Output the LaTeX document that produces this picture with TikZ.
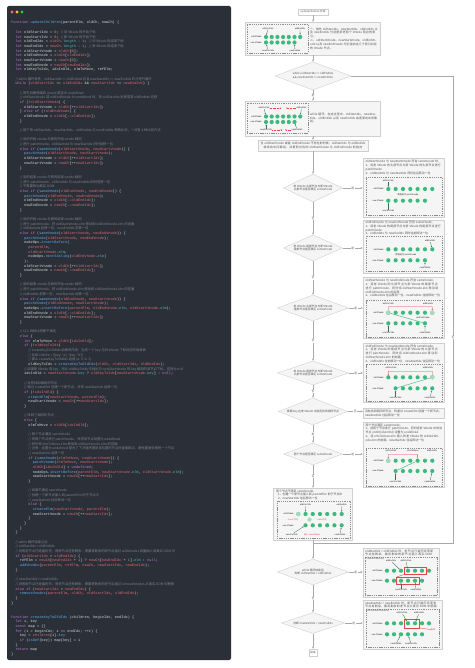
\documentclass[tikz,border=0pt]{standalone}
\usepackage{fontspec}
\setmonofont{Liberation Mono}
\newfontfamily\cjk{Noto Sans CJK SC}
\usetikzlibrary{shapes.geometric,arrows.meta}
\XeTeXlinebreaklocale "zh"
\XeTeXlinebreakskip=0pt plus 0.5pt
\definecolor{panel}{HTML}{2B2F37}
\definecolor{codefg}{HTML}{D7DAE0}
\definecolor{ckw}{HTML}{C678DD}
\definecolor{cvar}{HTML}{E06C75}
\definecolor{cfn}{HTML}{61AFEF}
\definecolor{cprop}{HTML}{56B6C2}
\definecolor{cnum}{HTML}{D19A66}
\definecolor{ccom}{HTML}{7F848E}
\definecolor{boxline}{HTML}{CFCFCF}
\definecolor{boxfill}{HTML}{F5F5F5}
\definecolor{dashc}{HTML}{8C8C8C}
\definecolor{connc}{HTML}{A9A9A9}
\definecolor{txtc}{HTML}{505050}
\definecolor{vgreen}{HTML}{3DB97E}
\definecolor{vfade}{HTML}{A3DCC0}
\definecolor{vdark}{HTML}{2F6F52}
\definecolor{rline}{HTML}{E0474C}
\newcommand\Kw[1]{\textcolor{ckw}{#1}}
\newcommand\Vr[1]{\textcolor{cvar}{#1}}
\newcommand\Fn[1]{\textcolor{cfn}{#1}}
\newcommand\Pp[1]{\textcolor{cprop}{#1}}
\newcommand\Nm[1]{\textcolor{cnum}{#1}}
\newcommand\Cm[1]{{\cjk\fontsize{3.3}{4}\selectfont\textcolor{ccom}{#1}}}
\newcommand\codeln[3]{\node[codeline] (cl#1) at ({11+#2*4.32},{24+#1*4.678}) {#3};}
\newcommand\dotrow[6]{\foreach \i in {1,...,#4}{\node[#6] (#1\i) at ({#2+(\i-1)*#5},#3) {};}}
\begin{document}
\begin{tikzpicture}[x=1pt,y=-1pt,
 codeline/.style={anchor=base west, inner sep=0pt, text=codefg, font=\ttfamily\fontsize{3.6}{4.6}\selectfont},
 fbox/.style={draw=boxline, fill=boxfill, line width=0.4pt, inner sep=0pt},
 dbox/.style={draw=dashc, line width=0.35pt, dash pattern=on 1.3pt off 0.9pt, inner sep=0pt},
 dia/.style={diamond, draw=boxline, fill=boxfill, line width=0.4pt, inner sep=0pt},
 ftxt/.style={font=\cjk\fontsize{2.9}{3.8}\selectfont, text=txtc, inner sep=0pt, align=left},
 dtxt/.style={font=\cjk\fontsize{2.8}{3.8}\selectfont, text=txtc, inner sep=0pt, align=center},
 flab/.style={font=\cjk\fontsize{2.1}{2.5}\selectfont, text=black!85, inner sep=0.2pt},
 rlab/.style={font=\cjk\fontsize{2.1}{2.5}\selectfont, text=rline, inner sep=0.2pt},
 vdot/.style={circle, fill=vgreen, minimum size=4.2pt, inner sep=0pt},
 fdot/.style={circle, fill=vfade, minimum size=4.2pt, inner sep=0pt},
 farr/.style={draw=vdark, line width=0.3pt, -{Stealth[length=1.3pt,width=1.2pt]}},
 rarr/.style={draw=rline, line width=0.3pt, dash pattern=on 0.8pt off 0.6pt, -{Stealth[length=1.3pt,width=1.2pt]}},
 rseg/.style={draw=rline, line width=0.35pt},
 rbox/.style={draw=rline, line width=0.4pt, inner sep=0pt},
 gdiag/.style={draw=vgreen, line width=0.45pt},
 conn/.style={draw=connc, line width=0.35pt, -{Stealth[length=2.2pt,width=1.9pt]}},
 cline/.style={draw=connc, line width=0.35pt},
 yn/.style={font=\cjk\fontsize{2.8}{3}\selectfont, text=black!60, fill=white, inner sep=0.5pt}
]
\useasboundingbox (0,0) rectangle (474,668);
\fill[white] (0,0) rectangle (474,668);
% ---------------- code panel ----------------
\node[fill=panel, rounded corners=2pt, minimum width=224pt, minimum height=654pt, inner sep=0pt] (panel) at (119,333) {};
\node[circle, fill={rgb,255:red,255;green,95;blue,86}, minimum size=3.2pt, inner sep=0pt] (wr) at (12,12) {};
\node[circle, fill={rgb,255:red,255;green,189;blue,46}, minimum size=3.2pt, inner sep=0pt] (wy) at (17,12) {};
\node[circle, fill={rgb,255:red,39;green,201;blue,63}, minimum size=3.2pt, inner sep=0pt] (wg) at (22,12) {};
\codeln{0}{0}{\Kw{function} \Fn{updateChildren}(parentElm, oldCh, newCh) \{}
\codeln{2}{1}{\Kw{let} oldStartIdx = \Nm{0}; \Cm{// 旧 VNode 的开始下标}}
\codeln{3}{1}{\Kw{let} newStartIdx = \Nm{0}; \Cm{// 新 VNode 的开始下标}}
\codeln{4}{1}{\Kw{let} oldEndIdx = \Vr{oldCh}.\Pp{length} - \Nm{1}; \Cm{// 旧 VNode 的结束下标}}
\codeln{5}{1}{\Kw{let} newEndIdx = \Vr{newCh}.\Pp{length} - \Nm{1}; \Cm{// 新 VNode 的结束下标}}
\codeln{6}{1}{\Kw{let} oldStartVnode = \Vr{oldCh}[\Nm{0}];}
\codeln{7}{1}{\Kw{let} oldEndVnode = \Vr{oldCh}[\Vr{oldEndIdx}];}
\codeln{8}{1}{\Kw{let} newStartVnode = \Vr{newCh}[\Nm{0}];}
\codeln{9}{1}{\Kw{let} newEndVnode = \Vr{newCh}[\Vr{newEndIdx}];}
\codeln{10}{1}{\Kw{let} oldKeyToIdx, idxInOld, elmToMove, refElm;}
\codeln{12}{1}{\Cm{// while 循环条件：oldStartIdx <= oldEndIdx 并且 newStartIdx <= newEndIdx 时才进行循环}}
\codeln{13}{1}{\Kw{while} (\Vr{oldStartIdx} <= \Vr{oldEndIdx} \&\& \Vr{newStartIdx} <= \Vr{newEndIdx}) \{}
\codeln{15}{2}{\Cm{// 首先判断两端的 vnode 是否为 undefined}}
\codeln{16}{2}{\Cm{// oldStartVnode 或 oldEndVnode 为 undefined 时，将 oldStartIdx 右移或将 oldEndIdx 左移}}
\codeln{17}{2}{\Kw{if} (!\Vr{oldStartVnode}) \{}
\codeln{18}{3}{oldStartVnode = \Vr{oldCh}[++\Vr{oldStartIdx}];}
\codeln{19}{2}{\} \Kw{else if} (!\Vr{oldEndVnode}) \{}
\codeln{20}{3}{oldEndVnode = \Vr{oldCh}[--\Vr{oldEndIdx}];}
\codeln{21}{2}{\}}
\codeln{23}{2}{\Cm{// 接下来 oldStartIdx、newStartIdx、oldEndIdx 与 newEndIdx 两两比较，一共有 4 种比较方式}}
\codeln{25}{2}{\Cm{// 旧的开始 vnode 与新的开始 vnode 相同}}
\codeln{26}{2}{\Cm{// 进行 patchVnode，oldStartIdx 与 newStartIdx 同时后移一位}}
\codeln{27}{2}{\Kw{else if} (\Fn{sameVnode}(\Vr{oldStartVnode}, \Vr{newStartVnode})) \{}
\codeln{28}{3}{\Fn{patchVnode}(\Vr{oldStartVnode}, \Vr{newStartVnode});}
\codeln{29}{3}{oldStartVnode = \Vr{oldCh}[++\Vr{oldStartIdx}];}
\codeln{30}{3}{newStartVnode = \Vr{newCh}[++\Vr{newStartIdx}];}
\codeln{31}{2}{\}}
\codeln{33}{2}{\Cm{// 旧的结束 vnode 与新的结束 vnode 相同}}
\codeln{34}{2}{\Cm{// 进行 patchVnode，oldEndIdx 与 newEndIdx 同时前移一位}}
\codeln{35}{2}{\Cm{// 不需要移动真实 DOM}}
\codeln{36}{2}{\Kw{else if} (\Fn{sameVnode}(\Vr{oldEndVnode}, \Vr{newEndVnode})) \{}
\codeln{37}{3}{\Fn{patchVnode}(\Vr{oldEndVnode}, \Vr{newEndVnode});}
\codeln{38}{3}{oldEndVnode = \Vr{oldCh}[--\Vr{oldEndIdx}];}
\codeln{39}{3}{newEndVnode = \Vr{newCh}[--\Vr{newEndIdx}];}
\codeln{40}{2}{\}}
\codeln{42}{2}{\Cm{// 旧的开始 vnode 与新的结束 vnode 相同}}
\codeln{43}{2}{\Cm{// 进行 patchVnode，将 oldStartVnode.elm 移动到 oldEndVnode.elm 的后面}}
\codeln{44}{2}{\Cm{// oldStartIdx 后移一位，newEndIdx 前移一位}}
\codeln{45}{2}{\Kw{else if} (\Fn{sameVnode}(\Vr{oldStartVnode}, \Vr{newEndVnode})) \{}
\codeln{46}{3}{\Fn{patchVnode}(\Vr{oldStartVnode}, \Vr{newEndVnode});}
\codeln{47}{3}{nodeOps.\Fn{insertBefore}(}
\codeln{48}{4}{\Vr{parentElm},}
\codeln{49}{4}{\Vr{oldStartVnode}.\Pp{elm},}
\codeln{50}{4}{nodeOps.\Fn{nextSibling}(\Vr{oldEndVnode}.\Pp{elm})}
\codeln{51}{3}{);}
\codeln{52}{3}{oldStartVnode = \Vr{oldCh}[++\Vr{oldStartIdx}];}
\codeln{53}{3}{newEndVnode = \Vr{newCh}[--\Vr{newEndIdx}];}
\codeln{54}{2}{\}}
\codeln{56}{2}{\Cm{// 旧的结束 vnode 与新的开始 vnode 相同}}
\codeln{57}{2}{\Cm{// 进行 patchVnode，将 oldEndVnode.elm 移动到 oldStartVnode.elm 的前面}}
\codeln{58}{2}{\Cm{// oldEndIdx 前移一位，newStartIdx 后移一位}}
\codeln{59}{2}{\Kw{else if} (\Fn{sameVnode}(\Vr{oldEndVnode}, \Vr{newStartVnode})) \{}
\codeln{60}{3}{\Fn{patchVnode}(\Vr{oldEndVnode}, \Vr{newStartVnode});}
\codeln{61}{3}{nodeOps.\Fn{insertBefore}(\Vr{parentElm}, \Vr{oldEndVnode}.\Pp{elm}, \Vr{oldStartVnode}.\Pp{elm});}
\codeln{62}{3}{oldEndVnode = \Vr{oldCh}[--\Vr{oldEndIdx}];}
\codeln{63}{3}{newStartVnode = \Vr{newCh}[++\Vr{newStartIdx}];}
\codeln{64}{2}{\}}
\codeln{66}{2}{\Cm{// 以上四种比较都不满足}}
\codeln{67}{2}{\Kw{else} \{}
\codeln{68}{3}{\Kw{let} elmToMove = \Vr{oldCh}[\Vr{idxInOld}];}
\codeln{69}{3}{\Kw{if} (!\Vr{oldKeyToIdx})}
\codeln{70}{4}{\Cm{// createKeyToOldIdx 函数的作用：生成一个 key 与旧 VNode 下标对应的哈希表}}
\codeln{71}{4}{\Cm{// 比如 childre = [\{key: 'a'\}, \{key: 'b'\}]}}
\codeln{72}{4}{\Cm{// 那么 createKeyToOldIdx 返回 \{a: 0, b: 1\}}}
\codeln{73}{4}{oldKeyToIdx = \Fn{createKeyToOldIdx}(\Vr{oldCh}, \Vr{oldStartIdx}, \Vr{oldEndIdx});}
\codeln{74}{3}{\Cm{// 如果新 VNode 有 key，则从 oldKeyToIdx 中找出与 newStartVnode 的 key 相同的旧节点下标，否则为 null}}
\codeln{75}{3}{idxInOld = \Vr{newStartVnode}.\Pp{key} ? \Vr{oldKeyToIdx}[\Vr{newStartVnode}.\Pp{key}] : \Kw{null};}
\codeln{77}{3}{\Cm{// 没有找到相同的节点}}
\codeln{78}{3}{\Cm{// 通过 createElm 创建一个新节点，并将 newStartIdx 后移一位}}
\codeln{79}{3}{\Kw{if} (!\Vr{idxInOld}) \{}
\codeln{80}{4}{\Fn{createElm}(\Vr{newStartVnode}, \Vr{parentElm});}
\codeln{81}{4}{newStartVnode = \Vr{newCh}[++\Vr{newStartIdx}];}
\codeln{82}{3}{\}}
\codeln{84}{3}{\Cm{// 找到了相同的节点}}
\codeln{85}{3}{\Kw{else} \{}
\codeln{86}{4}{elmToMove = \Vr{oldCh}[\Vr{idxInOld}];}
\codeln{88}{4}{\Cm{// 两个节点满足 sameVnode}}
\codeln{89}{4}{\Cm{// 将两个节点进行 patchVnode，并将旧节点设置为 undefined}}
\codeln{90}{4}{\Cm{// 同时将 elmToMove.elm 移动到 oldStartVnode.elm 的前面}}
\codeln{91}{4}{\Cm{// 注意：设置为 undefined 是为了下次循环遇到该位置的节点时直接跳过，避免重复处理同一个节点}}
\codeln{92}{4}{\Cm{// newStartIdx 后移一位}}
\codeln{93}{4}{\Kw{if} (\Fn{sameVnode}(\Vr{elmToMove}, \Vr{newStartVnode})) \{}
\codeln{94}{5}{\Fn{patchVnode}(\Vr{elmToMove}, \Vr{newStartVnode});}
\codeln{95}{5}{\Vr{oldCh}[\Vr{idxInOld}] = \Kw{undefined};}
\codeln{96}{5}{nodeOps.\Fn{insertBefore}(\Vr{parentElm}, \Vr{newStartVnode}.\Pp{elm}, \Vr{oldStartVnode}.\Pp{elm});}
\codeln{97}{5}{newStartVnode = \Vr{newCh}[++\Vr{newStartIdx}];}
\codeln{98}{4}{\}}
\codeln{100}{4}{\Cm{// 如果不满足 sameVnode}}
\codeln{101}{4}{\Cm{// 创建一个新节点插入到 parentElm 的子节点中}}
\codeln{102}{4}{\Cm{// newStartIdx 往后移动一位}}
\codeln{103}{4}{\Kw{else} \{}
\codeln{104}{5}{\Fn{createElm}(\Vr{newStartVnode}, \Vr{parentElm});}
\codeln{105}{5}{newStartVnode = \Vr{newCh}[++\Vr{newStartIdx}];}
\codeln{106}{4}{\}}
\codeln{107}{3}{\}}
\codeln{108}{2}{\}}
\codeln{109}{1}{\}}
\codeln{111}{1}{\Cm{// while 循环结束之后}}
\codeln{112}{1}{\Cm{// oldStartIdx > oldEndIdx}}
\codeln{113}{1}{\Cm{// 说明老节点已经遍历完，而新节点还有剩余，需要将剩余的新节点通过 addVnodes 批量插入到真实 DOM 中}}
\codeln{114}{1}{\Kw{if} (\Vr{oldStartIdx} > \Vr{oldEndIdx}) \{}
\codeln{115}{2}{refElm = \Vr{newCh}[\Vr{newEndIdx} + \Nm{1}] ? \Vr{newCh}[\Vr{newEndIdx} + \Nm{1}].\Pp{elm} : \Kw{null};}
\codeln{116}{2}{\Fn{addVnodes}(\Vr{parentElm}, \Vr{refElm}, \Vr{newCh}, \Vr{newStartIdx}, \Vr{newEndIdx});}
\codeln{117}{1}{\}}
\codeln{119}{1}{\Cm{// newStartIdx > newEndIdx}}
\codeln{120}{1}{\Cm{// 说明新节点已经遍历完，而老节点还有剩余，需要将剩余的老节点通过 removeVnodes 从真实 DOM 中删除}}
\codeln{121}{1}{\Kw{else if} (\Vr{newStartIdx} > \Vr{newEndIdx}) \{}
\codeln{122}{2}{\Fn{removeVnodes}(\Vr{parentElm}, \Vr{oldCh}, \Vr{oldStartIdx}, \Vr{oldEndIdx});}
\codeln{123}{1}{\}}
\codeln{124}{0}{\}}
\codeln{127}{0}{\Kw{function} \Fn{createKeyToOldIdx} (children, beginIdx, endIdx) \{}
\codeln{128}{1}{\Kw{let} i, key}
\codeln{129}{1}{\Kw{const} map = \{\}}
\codeln{130}{1}{\Kw{for} (i = beginIdx; i <= endIdx; ++i) \{}
\codeln{131}{2}{key = \Vr{children}[i].\Pp{key}}
\codeln{132}{2}{\Kw{if} (\Fn{isDef}(key)) map[key] = i}
\codeln{133}{1}{\}}
\codeln{134}{1}{\Kw{return} map}
\codeln{135}{0}{\}}
% ---------------- flowchart: main column ----------------
\node[fbox, fill=white, minimum width=30pt, minimum height=6pt, font=\cjk\fontsize{2.6}{3}\selectfont, text=txtc] (st) at (313,12) {updateChildren 开始};
\node[fbox, minimum width=135pt, minimum height=33pt] (b1) at (313,38.5) {};
\node[ftxt, anchor=north west, text width=68pt] (b1t) at (310,27.5) {一、首先 oldStartIdx、newStartIdx、oldEndIdx 以及 newEndIdx 分别是新老两个 VNode 两边的索引。\\ 二、oldStartVnode、newStartVnode、oldEndVnode 以及 newEndVnode 分别指向这几个索引对应的 VNode 节点。};
\node[dia, minimum width=76pt, minimum height=28pt] (d1) at (313,76) {};
\node[dtxt] (d1t) at (d1) {while (oldStartIdx <= oldEndIdx\\ \&\& newStartIdx <= newEndIdx)};
\node[fbox, minimum width=135pt, minimum height=35pt] (b2) at (313,118.5) {};
\node[ftxt, anchor=west, text width=68pt] (b2t) at (310,118) {while 循环，在这过程中，oldStartIdx、newStartIdx、oldEndIdx 以及 newEndIdx 会逐渐向中间靠拢。};
\node[fbox, minimum width=110pt, minimum height=11pt, text width=107pt, align=center, font=\cjk\fontsize{2.9}{3.8}\selectfont, text=txtc] (b3) at (313,145.5) {当 oldStartVnode 或者 oldEndVnode 不存在的时候，oldStartIdx 与 oldEndIdx 继续向中间靠拢，并更新对应的 oldStartVnode 与 oldEndVnode 的指向};
\node[dia, minimum width=59pt, minimum height=28pt] (d2) at (313,188) {};
\node[dtxt] (d2t) at (d2) {老 VNode 头部节点与新 VNode\\ 头部节点是否满足 sameVnode};
\node[dia, minimum width=59pt, minimum height=26pt] (d3) at (313,248) {};
\node[dtxt] (d3t) at (d3) {老 VNode 尾部节点与新 VNode\\ 尾部节点是否满足 sameVnode};
\node[dia, minimum width=71pt, minimum height=26pt] (d4) at (313,308) {};
\node[dtxt] (d4t) at (d4) {老 VNode 头部节点与新 VNode\\ 尾部节点是否满足 sameVnode};
\node[dia, minimum width=71pt, minimum height=24pt] (d5) at (313,373) {};
\node[dtxt] (d5t) at (d5) {老 VNode 尾部节点与新 VNode\\ 头部节点是否满足 sameVnode};
\node[dia, minimum width=69pt, minimum height=27pt] (d6) at (313,411.5) {};
\node[dtxt] (d6t) at (d6) {根据 key 在老 VNode 中能否找到相同节点};
\node[dia, minimum width=59pt, minimum height=22pt] (d7) at (313,454) {};
\node[dtxt] (d7t) at (d7) {两个节点是否满足 sameVnode};
\node[fbox, minimum width=79pt, minimum height=52pt] (b10) at (313,514) {};
\node[ftxt, anchor=north west, text width=75pt] (b10t) at (276,489.5) {两个节点不满足 sameVnode，\\ \hspace*{2pt}1、创建一个新节点插入到 parentElm 的子节点中\\ \hspace*{2pt}2、newStartIdx 往后移动一位};
\node[dia, minimum width=71pt, minimum height=26pt] (d8) at (313,572) {};
\node[dtxt] (d8t) at (d8) {while 循环结束后\\ 判断 oldStartIdx > oldEndIdx};
\node[dia, minimum width=63pt, minimum height=21pt] (d9) at (313,623) {};
\node[dtxt] (d9t) at (d9) {判断 newStartIdx > newEndIdx};
\node[fbox, fill=white, minimum width=8pt, minimum height=7pt, font=\cjk\fontsize{2.6}{3}\selectfont, text=txtc] (en) at (313,652.5) {结束};
% ---------------- flowchart: right boxes ----------------
\node[fbox, minimum width=81pt, minimum height=59pt] (b4) at (403.5,187.5) {};
\node[ftxt, anchor=north west, text width=77pt] (b4t) at (365.5,160) {oldStartVnode 与 newStartVnode 符合 sameVnode 时，\\ 1、将老 VNode 的头部节点与新 VNode 的头部节点进行 patchVnode\\ 2、oldStartIdx 与 newStartIdx 同时往后移动一位};
\node[fbox, minimum width=81pt, minimum height=53pt] (b5) at (403.5,246.5) {};
\node[ftxt, anchor=north west, text width=77pt] (b5t) at (365.5,220.8) {oldEndVnode 与 newEndVnode 符合 sameVnode，\\ 1、将老 VNode 的尾部节点与新 VNode 的尾部节点进行 patchVnode\\ 2、oldEndIdx 与 newEndIdx 同时往前移动一位};
\node[fbox, minimum width=81pt, minimum height=61pt] (b6) at (403.5,307.5) {};
\node[ftxt, anchor=north west, text width=77pt] (b6t) at (365.5,279) {oldStartVnode 与 newEndVnode 符合 sameVnode，\\ 1、将老 VNode 的头部节点与新 VNode 的尾部节点进行 patchVnode，同时将 oldStartVnode.elm 移动到 oldEndVnode.elm 的后面\\ 2、oldStartIdx 往后移动一位，newEndIdx 往前移动一位};
\node[fbox, minimum width=81pt, minimum height=59pt] (b7) at (403.5,372.5) {};
\node[ftxt, anchor=north west, text width=77pt] (b7t) at (365.5,344.5) {oldEndVnode 与 newStartVnode 符合 sameVnode，\\ 1、将老 VNode 的尾部节点与新 VNode 的头部节点进行 patchVnode，同时将 oldEndVnode.elm 移动到 oldStartVnode.elm 的前面\\ 2、oldEndIdx 往前移动一位，newStartIdx 往后移动一位};
\node[fbox, minimum width=81pt, minimum height=10pt, text width=77pt, align=left, font=\cjk\fontsize{2.9}{3.8}\selectfont, text=txtc] (b8) at (403.5,413) {没有找到相同的节点，则通过 createElm 创建一个新节点，newStartIdx 往后移动一位};
\node[fbox, minimum width=81pt, minimum height=65pt] (b9) at (403.5,454.5) {};
\node[ftxt, anchor=north west, text width=77pt] (b9t) at (365.5,423.5) {两个节点满足 sameVnode，\\ 1、将两个节点进行 patchVnode，同时将老 VNode 中的该节点 oldCh[idxInOld] 设置为 undefined\\ 2、将 elmToMove.elm 插入到老 VNode 的 oldStartVnode.elm 的前面，newStartIdx 往后移动一位};
\node[fbox, minimum width=76pt, minimum height=49pt] (b11) at (401,572.5) {};
\node[ftxt, anchor=north west, text width=72pt] (b11t) at (365,549.5) {oldStartIdx > oldEndIdx 时，老节点已遍历完而新节点有剩余，需将剩余的新节点插入真实 DOM（addVnodes）};
\node[fbox, minimum width=79pt, minimum height=49pt] (b12) at (402.5,624.5) {};
\node[ftxt, anchor=north west, text width=75pt] (b12t) at (365,601.5) {newStartIdx > newEndIdx 时，新节点已遍历完而老节点有剩余，需将剩余的老节点从真实 DOM 中删除（removeVnodes）};
% ---------------- connectors ----------------
\coordinate (c1) at (453,76);
\coordinate (c2) at (453,543);
\coordinate (c3) at (313,543);
\draw[conn] (st) -- (b1);
\draw[conn] (b1) -- (d1);
\draw[conn] (d1) -- node[yn]{是} (b2);
\draw[conn] (b2) -- (b3);
\draw[conn] (b3) -- (d2);
\draw[conn] (d2.east) -- node[yn]{是} (d2.east -| b4.west);
\draw[conn] (d2) -- node[yn]{否} (d3);
\draw[conn] (d3.east) -- node[yn]{是} (d3.east -| b5.west);
\draw[conn] (d3) -- node[yn]{否} (d4);
\draw[conn] (d4.east) -- node[yn]{是} (d4.east -| b6.west);
\draw[conn] (d4) -- node[yn]{否} (d5);
\draw[conn] (d5.east) -- node[yn]{是} (d5.east -| b7.west);
\draw[conn] (d5) -- node[yn]{否} (d6);
\draw[conn] (d6.east) -- node[yn]{否} (d6.east -| b8.west);
\draw[conn] (d6) -- node[yn]{是} (d7);
\draw[conn] (d7.east) -- node[yn]{是} (d7.east -| b9.west);
\draw[conn] (d7) -- node[yn]{否} (b10);
\draw[cline] (d1.east) -- (c1) -- node[yn, pos=0.56]{否} (c2) -- (c3);
\draw[conn] (b10) -- (d8);
\draw[conn] (d8.east) -- node[yn]{是} (d8.east -| b11.west);
\draw[conn] (d8) -- node[yn]{否} (d9);
\draw[conn] (d9.east) -- node[yn]{是} (d9.east -| b12.west);
\draw[conn] (d9) -- (en);
% ---------------- fig 1 ----------------
\node[dbox, minimum width=61pt, minimum height=29pt] (f1) at (277.5,38.5) {};
\dotrow{f1o}{266}{37}{7}{5.7}{vdot}
\dotrow{f1n}{266}{42.5}{6}{5.7}{vdot}
\node[flab, anchor=east] (f1ol) at (262,37) {old VNode};
\node[flab, anchor=east] (f1nl) at (262,42.5) {new VNode};
\node[flab] (f1os) at (268,28.5) {oldStartIdx};
\node[flab] (f1oe) at (300,28.5) {oldEndIdx};
\node[flab] (f1ns) at (268,50.5) {newStartIdx};
\node[flab] (f1ne) at (295,50.5) {newEndIdx};
\draw[farr] (f1os) -- (f1o1);
\draw[farr] (f1oe) -- (f1o7);
\draw[farr] (f1ns) -- (f1n1);
\draw[farr] (f1ne) -- (f1n6);
% ---------------- fig 2 ----------------
\node[dbox, minimum width=61pt, minimum height=30pt] (f2) at (277.5,118) {};
\dotrow{f2o}{266}{116.5}{7}{5.7}{vdot}
\dotrow{f2n}{266}{122}{6}{5.7}{vdot}
\node[flab, anchor=east] (f2ol) at (262,116.5) {old VNode};
\node[flab, anchor=east] (f2nl) at (262,122) {new VNode};
\node[flab] (f2os) at (264,108) {oldStartIdx};
\node[flab] (f2oe) at (301.5,108) {oldEndIdx};
\node[flab] (f2ns) at (266,129.8) {newStartIdx};
\node[flab] (f2ne) at (297,129.8) {newEndIdx};
\coordinate (f2osr) at (281,108);
\coordinate (f2oel) at (286,108);
\coordinate (f2nsr) at (282,129.8);
\coordinate (f2nel) at (285,129.8);
\draw[rarr] (f2os.east) -- (f2osr);
\draw[rarr] (f2oe.west) -- (f2oel);
\draw[rarr] (f2ns.east) -- (f2nsr);
\draw[rarr] (f2ne.west) -- (f2nel);
\draw[farr] (f2os) -- (f2o1);
\draw[farr] (f2oe) -- (f2o7);
\draw[farr] (f2ns) -- (f2n1);
\draw[farr] (f2ne) -- (f2n6);
% ---------------- fig 4 ----------------
\node[dbox, minimum width=76pt, minimum height=38pt] (f4) at (404,196) {};
\dotrow{f4o}{388.3}{189}{7}{7.33}{vdot}
\dotrow{f4n}{388.3}{200.7}{6}{7.33}{vdot}
\node[flab, anchor=east] (f4ol) at (384,189) {old VNode};
\node[flab, anchor=east] (f4nl) at (384,200.7) {new VNode};
\node[flab] (f4os) at (388.3,181) {oldStartIdx};
\node[flab] (f4ns) at (388.3,211) {newStartIdx};
\node[flab] (f4p) at (408,194.8) {两者进行 patchVnode};
\draw[farr] (f4os) -- (f4o1);
\draw[farr] (f4ns) -- (f4n1);
% ---------------- fig 5 ----------------
\node[dbox, minimum width=76pt, minimum height=35pt] (f5) at (404,253.5) {};
\dotrow{f5o}{388.3}{249.3}{7}{7.33}{vdot}
\dotrow{f5n}{388.3}{260.3}{6}{7.33}{vdot}
\node[flab, anchor=east] (f5ol) at (384,249.3) {old VNode};
\node[flab, anchor=east] (f5nl) at (384,260.3) {new VNode};
\node[flab] (f5oe) at (430,240.8) {oldEndIdx};
\node[flab] (f5ne) at (425,268) {newEndIdx};
\node[flab] (f5p) at (406,254.8) {两者进行 patchVnode};
\draw[farr] (f5oe) -- (f5o7);
\draw[farr] (f5ne) -- (f5n6);
% ---------------- fig 6 ----------------
\node[dbox, minimum width=76pt, minimum height=37pt] (f6) at (404,318.5) {};
\dotrow{f6o}{388.3}{312.7}{7}{7.33}{vdot}
\dotrow{f6n}{388.3}{323.3}{6}{7.33}{vdot}
\node[fdot] (f6o1f) at (f6o1) {};
\node[fdot] (f6o7f) at (f6o7) {};
\node[flab, anchor=east] (f6ol) at (384,312.7) {old VNode};
\node[flab, anchor=east] (f6nl) at (384,323.3) {new VNode};
\node[flab] (f6os) at (388.3,303.3) {oldStartIdx};
\node[flab] (f6oe) at (428,303.3) {oldEndIdx};
\coordinate (f6ra) at (388.3,306.8);
\coordinate (f6rb) at (432.3,306.8);
\draw[rseg, -{Stealth[length=1.3pt,width=1.2pt]}] (f6o1.north) -- (f6ra) -- (f6rb) -- (f6o7.north);
\node[flab] (f6ev) at (423,318.1) {oldEndVnode};
\draw[gdiag] (f6o1) -- (f6n6);
\node[flab] (f6ns) at (388.3,332.8) {newStartIdx};
\node[flab] (f6ne) at (425,332.8) {newEndIdx};
\draw[farr] (f6ns) -- (f6n1);
\draw[farr] (f6ne) -- (f6n6);
% ---------------- fig 7 ----------------
\node[dbox, minimum width=76pt, minimum height=37pt] (f7) at (404,382.5) {};
\dotrow{f7o}{388.3}{377.3}{7}{7.33}{vdot}
\dotrow{f7n}{395.6}{388.3}{6}{7.33}{vdot}
\node[fdot] (f7o7f) at (f7o7) {};
\node[flab, anchor=east] (f7ol) at (384,377.3) {old VNode};
\node[flab, anchor=east] (f7nl) at (384,388.3) {new VNode};
\node[flab] (f7os) at (391,367.8) {oldStartIdx};
\node[flab] (f7oe) at (428,367.8) {oldEndIdx};
\coordinate (f7ra) at (388.3,371.3);
\coordinate (f7rb) at (432.3,371.3);
\draw[rseg, -{Stealth[length=1.3pt,width=1.2pt]}] (f7o7.north) -- (f7rb) -- (f7ra) -- (f7o1.north);
\draw[gdiag] (f7o7) -- (f7n1);
\node[flab] (f7ns) at (395.6,397.8) {newStartIdx};
\node[flab] (f7ne) at (430,397.8) {newEndIdx};
\draw[farr] (f7ns) -- (f7n1);
\draw[farr] (f7ne) -- (f7n6);
% ---------------- fig 9 ----------------
\node[dbox, minimum width=76pt, minimum height=38pt] (f9) at (404,467) {};
\dotrow{f9o}{388.3}{460.7}{7}{7.33}{vdot}
\dotrow{f9n}{395.6}{471}{6}{7.33}{vdot}
\node[fdot] (f9o1f) at (f9o1) {};
\node[flab, anchor=east] (f9ol) at (384,460.7) {old VNode};
\node[flab, anchor=east] (f9nl) at (384,471) {new VNode};
\node[flab] (f9os) at (391,450.5) {oldStartIdx};
\node[flab] (f9em) at (413,450.5) {elmToMove};
\node[flab] (f9oe) at (432,450.5) {oldEndIdx};
\coordinate (f9ra) at (388.3,454.5);
\coordinate (f9rb) at (417.6,454.5);
\draw[rseg, -{Stealth[length=1.3pt,width=1.2pt]}] (f9o5.north) -- (f9rb) -- (f9ra) -- (f9o1.north);
\draw[gdiag] (f9o5) -- (f9n1);
\node[flab] (f9ns) at (395.6,481.3) {newStartIdx};
\node[flab] (f9ne) at (430,481.3) {newEndIdx};
\draw[farr] (f9ns) -- (f9n1);
\draw[farr] (f9ne) -- (f9n6);
% ---------------- fig 10 ----------------
\node[dbox, minimum width=73pt, minimum height=37pt] (f10) at (313.5,519.5) {};
\dotrow{f10o}{298.3}{514}{7}{7.23}{vdot}
\dotrow{f10n}{305.5}{525.3}{6}{7.23}{vdot}
\node[fdot] (f10o1f) at (f10o1) {};
\node[fdot] (f10x) at (309.5,519.6) {};
\node[flab, anchor=east] (f10ol) at (294,514) {old VNode};
\node[flab, anchor=east] (f10nl) at (294,525.3) {new VNode};
\node[rlab] (f10xl) at (293,519.6) {insert 节点};
\node[rlab] (f10xr) at (322,519.6) {new 节点};
\node[flab] (f10os) at (305.5,505) {oldStartIdx};
\node[flab] (f10oe) at (341.7,505) {oldEndIdx};
\node[flab] (f10ns) at (291.7,534.5) {newStartIdx};
\node[rlab] (f10nr) at (312,534.5) {插入 new VNode};
\node[flab] (f10ne) at (340,534.5) {newEndIdx};
\draw[farr] (f10os) -- (f10o2);
\draw[farr] (f10oe) -- (f10o7);
\draw[farr] (f10ns) -- (f10n1);
\draw[farr] (f10ne) -- (f10n6);
% ---------------- fig 11 ----------------
\node[dbox, minimum width=72pt, minimum height=38pt] (f11) at (401,576.5) {};
\dotrow{f11o}{387}{570.7}{7}{7}{vdot}
\dotrow{f11n}{387}{580.7}{6}{7}{vdot}
\node[flab, anchor=east] (f11ol) at (383,570.7) {old VNode};
\node[flab, anchor=east] (f11nl) at (383,580.7) {new VNode};
\node[rbox, minimum width=21.6pt, minimum height=7.3pt] (f11r1) at (415,570.7) {};
\node[rbox, minimum width=23pt, minimum height=6.7pt] (f11r2) at (408,580.7) {};
\draw[rseg] (f11r1.south west) -- (f11r2.north west);
\node[flab] (f11oe) at (391,561) {oldEndIdx};
\node[flab] (f11os) at (406,561) {oldStartIdx};
\node[flab] (f11ns) at (401,589.8) {newStartIdx};
\node[flab] (f11ne) at (416,589.8) {newEndIdx};
\draw[farr] (f11oe) -- (f11o3);
\draw[farr] (f11os) -- (f11o4);
\draw[farr] (f11ns) -- (f11n3);
\draw[farr] (f11ne) -- (f11n5);
% ---------------- fig 12 ----------------
\node[dbox, minimum width=73pt, minimum height=38pt] (f12) at (402.5,628.5) {};
\dotrow{f12o}{387}{623.3}{7}{7}{vdot}
\dotrow{f12n}{387}{634.3}{6}{7}{vdot}
\node[flab, anchor=east] (f12ol) at (383,623.3) {old VNode};
\node[flab, anchor=east] (f12nl) at (383,634.3) {new VNode};
\node[rbox, minimum width=15.5pt, minimum height=9pt] (f12r) at (411.5,623.3) {};
\node[rlab] (f12rl) at (433,629.8) {删除};
\draw[rseg] (f12r.south east) -- (f12rl);
\node[flab] (f12os) at (402,613) {oldStartIdx};
\node[flab] (f12oe) at (419,613) {oldEndIdx};
\node[flab] (f12ne) at (396,644) {newEndIdx};
\node[flab] (f12ns) at (411,644) {newStartIdx};
\draw[farr] (f12os) -- (f12o4);
\draw[farr] (f12oe) -- (f12o5);
\draw[farr] (f12ne) -- (f12n3);
\draw[farr] (f12ns) -- (f12n4);
\end{tikzpicture}
\end{document}
